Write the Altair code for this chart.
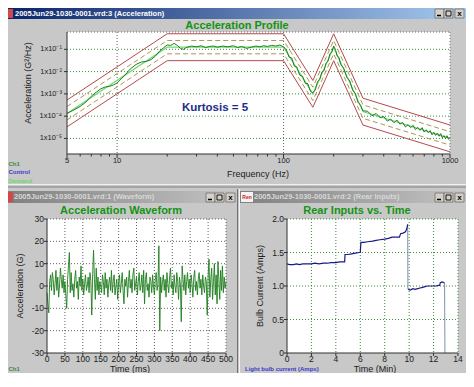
import altair as alt
import pandas as pd

FONT = "Liberation Sans"
W, H = 458, 365
BG = "#c8c8c8"

# ====================== DATA ======================
# --- Acceleration Profile (Hz vs G^2/Hz) ---
prof_f = [5, 20, 100, 150, 200, 300, 1000]
demand_v = [1.33e-4, 0.125, 0.125, 1.0e-3, 0.125, 1.6e-4, 1.0e-5]
abort_hi_v = [5.3e-4, 0.5, 0.5, 4.0e-3, 0.5, 6.4e-4, 4.0e-5]
abort_lo_v = [3.3e-5, 0.031, 0.031, 2.5e-4, 0.031, 4.0e-5, 2.5e-6]
alarm_hi_v = [2.7e-4, 0.25, 0.25, 2.0e-3, 0.25, 3.2e-4, 2.0e-5]
alarm_lo_v = [6.7e-5, 0.063, 0.063, 5.0e-4, 0.063, 8.0e-5, 5.0e-6]

ctrl_f = [5, 5.5, 6, 6.5, 7, 7.5, 8, 8.5, 9, 9.5, 10, 11, 12, 13, 14, 15, 16, 17, 18, 19, 20,
          21, 22, 23, 24, 25, 26, 28, 30, 32, 34, 36, 38, 40, 43, 46, 50, 53, 56, 60, 64, 68,
          72, 76, 80, 85, 90, 95, 100,
          104, 108, 112, 116, 120, 125, 130, 135, 140, 145, 150,
          155, 160, 165, 170, 175, 180, 185, 190, 195, 200,
          205, 210, 215, 220, 230, 240, 250, 260, 270, 280, 290, 300,
          320, 340, 360, 380, 400, 420, 440, 460, 480, 500, 520, 540, 560, 580, 600, 620,
          640, 660, 680, 700, 720, 740, 760, 780, 800, 820, 840, 860, 880, 900, 920, 940,
          960, 980, 1000]
ctrl_v = [1.33e-4, 1.90e-4, 2.72e-4, 4.33e-4, 7.85e-4, 1.19e-3, 1.71e-3, 2.05e-3, 2.16e-3,
          2.51e-3, 3.09e-3, 6.24e-3, 1.32e-2, 2.10e-2, 2.70e-2, 2.88e-2, 3.45e-2, 4.99e-2,
          8.34e-2, 0.117, 0.157,
          0.15, 0.185, 0.15, 0.11, 0.10, 0.12, 0.14, 0.13, 0.145, 0.12, 0.135, 0.14, 0.125,
          0.14, 0.13, 0.145, 0.12, 0.135, 0.11, 0.125, 0.14, 0.13, 0.145, 0.135, 0.15, 0.14,
          0.155, 0.13,
          9.44e-2, 4.46e-2, 4.08e-2, 1.77e-2, 1.64e-2, 6.97e-3, 6.17e-3, 2.99e-3, 2.86e-3,
          1.33e-3, 1.12e-3,
          1.51e-3, 3.55e-3, 4.42e-3, 9.59e-3, 1.10e-2, 2.40e-2, 2.95e-2, 6.37e-2, 7.45e-2, 0.140,
          9.77e-2, 5.0e-2, 4.38e-2, 2.17e-2, 1.41e-2, 5.45e-3, 3.85e-3, 1.49e-3, 1.04e-3,
          4.22e-4, 3.13e-4, 1.75e-4,
          1.66e-4, 1.04e-4, 1.32e-4, 8.47e-5, 9.68e-5, 5.98e-5, 7.43e-5, 5.08e-5, 6.67e-5,
          4.40e-5, 5.18e-5, 3.28e-5, 4.17e-5, 3.05e-5, 3.90e-5, 2.50e-5, 3.13e-5, 2.32e-5,
          3.05e-5, 1.93e-5, 2.44e-5, 1.82e-5, 2.26e-5, 1.44e-5, 1.87e-5, 1.37e-5, 1.75e-5,
          1.26e-5, 1.65e-5, 1.06e-5, 1.33e-5, 9.82e-6, 1.32e-5, 9.12e-6, 1.12e-5]

top_xticks = [5, 10, 100, 1000]
top_xlabels = ["5", "10", "100", "1000"]
top_xminor = [6, 7, 8, 9, 20, 30, 40, 50, 60, 70, 80, 90, 200, 300, 400, 500, 600, 700, 800, 900]
top_xgrid = [10, 100]
top_yticks = [1e-1, 1e-2, 1e-3, 1e-4, 1e-5]
top_ylabels = ["1x10⁻¹", "1x10⁻²", "1x10⁻³", "1x10⁻⁴", "1x10⁻⁵"]

# --- Acceleration Waveform (ms vs G) ---
wave_g = [-3, -8, -12, 2, 5, -2, 6, 3, -4, 1,
          7, -2, 4, -5, 0, 8, 3, -1, 5, -3,
          2, -4, -10, 3, 9, 15, -3, 6, -2, 1,
          -5, 3, 7, -1, 2, -6, 4, 0, 9, -2,
          3, -4, 1, 5, -2, 0, 4, -3, 6, 2,
          -13, 5, 16, 3, -6, 8, -2, 4, -4, 2,
          0, -3, 5, 2, -4, 6, -1, 3, -5, 1,
          4, -2, 7, -3, 2, 5, -4, 0, 3, -6,
          2, 5, -3, 1, 6, -2, -8, 3, 0, 4,
          -5, 2, 7, -1, 3, -3, 5, 8, -2, 1,
          4, -4, 2, 6, -2, 0, 5, -3, 7, -8,
          3, 6, -2, 1, -5, 4, 2, -3, 5, 0,
          -4, 3, 6, -2, 1, 18, -20, 4, -3, 2,
          5, -2, 3, -5, 6, 1, -3, 4, 8, -1,
          2, -4, 5, 0, -3, 6, 2, -6, 4, 1,
          -16, 9, 3, -2, 5, -4, 2, 6, -1, 3,
          -3, 5, 1, -5, 4, 7, -2, 2, -4, 3,
          6, -1, 3, -4, 5, 0, -3, 4, 2, -13,
          4, 12, -5, 3, 8, -6, 2, 10, -4, 5,
          -8, 11, 3, -6, 7, -2, 9, -3, 4, -1,
          2]
wave_t = [i * 2.5 for i in range(len(wave_g))]
wave_xticks = [0, 50, 100, 150, 200, 250, 300, 350, 400, 450, 500]
wave_xgrid = [50, 100, 150, 200, 250, 300, 350, 400, 450]
wave_yticks = [30, 20, 10, 0, -10, -20, -30]
wave_ygrid = [20, 10, 0, -10, -20]

# --- Rear Inputs vs. Time (min vs Amps) ---
rear1_t = [0, 0.2, 0.5, 0.8, 1.0, 1.3, 1.6, 2.0, 2.3, 2.6, 3.0, 3.3, 3.6, 4.0, 4.3, 4.6, 4.72,
           4.75, 5.0, 5.3, 5.6, 5.9, 6.0, 6.05, 6.3, 6.6, 7.0, 7.3, 7.6, 8.0, 8.3, 8.6, 9.0,
           9.2, 9.3, 9.5, 9.7, 9.8, 9.88]
rear1_v = [1.33, 1.32, 1.32, 1.33, 1.32, 1.33, 1.33, 1.33, 1.34, 1.33, 1.34, 1.34, 1.35, 1.35,
           1.36, 1.36, 1.36, 1.47, 1.47, 1.48, 1.49, 1.50, 1.50, 1.65, 1.65, 1.66, 1.67, 1.68,
           1.69, 1.70, 1.71, 1.73, 1.73, 1.73, 1.78, 1.79, 1.81, 1.85, 1.92]
rear2_t = [9.92, 10.1, 10.3, 10.5, 10.7, 10.9, 11.1, 11.3, 11.5, 11.8, 12.0, 12.2, 12.4, 12.5,
           12.55, 12.7, 12.85, 12.9]
rear2_v = [0.95, 0.94, 0.96, 0.95, 0.96, 0.97, 0.98, 0.99, 1.00, 1.00, 1.00, 1.00, 1.01, 1.01,
           1.05, 1.06, 1.05, 1.04]
drop_t = [9.88, 9.90, 12.9, 12.93]
drop_v = [1.92, 0.95, 1.04, 0.0]
drop_id = ["a", "a", "b", "b"]
rear_xticks = [0, 2, 4, 6, 8, 10, 12, 14]
rear_xgrid = [2, 4, 6, 8, 10, 12]
rear_yticks = [2.0, 1.5, 1.0, 0.5, 0.0]
rear_ylabels = ["2.0", "1.5", "1.0", "0.5", "0"]
rear_ygrid = [1.5, 1.0, 0.5]

assert len(ctrl_f) == len(ctrl_v)
assert len(rear1_t) == len(rear1_v) and len(rear2_t) == len(rear2_v)

# ====================== HELPERS ======================
def one():
    return pd.DataFrame({"k": [0]})


def rect(x1, x2, y1, y2, **kw):
    return alt.Chart(one()).mark_rect(**kw).encode(
        x=alt.value(x1), x2=alt.value(x2), y=alt.value(y1), y2=alt.value(y2))


def hrule(x1, x2, y, **kw):
    return alt.Chart(one()).mark_rule(**kw).encode(
        x=alt.value(x1), x2=alt.value(x2), y=alt.value(y))


def vrule(x, y1, y2, **kw):
    return alt.Chart(one()).mark_rule(**kw).encode(
        x=alt.value(x), y=alt.value(y1), y2=alt.value(y2))


def label(x, y, s, size, color="#202020", weight="normal", align="center", angle=None):
    kw = dict(text=s, fontSize=size, color=color, fontWeight=weight, align=align,
              baseline="middle", font=FONT)
    if angle is not None:
        kw["angle"] = angle
    return alt.Chart(one()).mark_text(**kw).encode(x=alt.value(x), y=alt.value(y))


def vgrid(vals, xs, y1, y2, color):
    return alt.Chart(pd.DataFrame({"v": vals})).mark_rule(
        color=color, strokeWidth=1, strokeDash=[1, 2]).encode(
        x=alt.X("v:Q", scale=xs, axis=None), y=alt.value(y1), y2=alt.value(y2))


def hgrid(vals, ys, x1, x2, color):
    return alt.Chart(pd.DataFrame({"v": vals})).mark_rule(
        color=color, strokeWidth=1, strokeDash=[1, 2]).encode(
        y=alt.Y("v:Q", scale=ys, axis=None), x=alt.value(x1), x2=alt.value(x2))


def xticks(vals, xs, y, ln, color="#303030"):
    return alt.Chart(pd.DataFrame({"v": vals})).mark_rule(color=color, strokeWidth=1).encode(
        x=alt.X("v:Q", scale=xs, axis=None), y=alt.value(y), y2=alt.value(y + ln))


def yticks(vals, ys, x, ln, color="#303030"):
    return alt.Chart(pd.DataFrame({"v": vals})).mark_rule(color=color, strokeWidth=1).encode(
        y=alt.Y("v:Q", scale=ys, axis=None), x=alt.value(x - ln), x2=alt.value(x))


def xlabels(vals, labs, xs, y, size):
    return alt.Chart(pd.DataFrame({"v": vals, "lab": labs})).mark_text(
        fontSize=size, font=FONT, color="#202020", align="center", baseline="middle").encode(
        x=alt.X("v:Q", scale=xs, axis=None), y=alt.value(y), text="lab:N")


def ylabels(vals, labs, ys, x, size):
    return alt.Chart(pd.DataFrame({"v": vals, "lab": labs})).mark_text(
        fontSize=size, font=FONT, color="#202020", align="right", baseline="middle").encode(
        y=alt.Y("v:Q", scale=ys, axis=None), x=alt.value(x), text="lab:N")


def hgrad(c0, c1):
    return alt.LinearGradient(gradient="linear",
                              stops=[alt.GradientStop(color=c0, offset=0),
                                     alt.GradientStop(color=c1, offset=1)],
                              x1=0, x2=1, y1=0, y2=0)


def buttons(xr, y1, y2):
    out = []
    close = (xr - 9, xr)
    mx = (xr - 20, xr - 11)
    mn = (xr - 29, xr - 20)
    for bx1, bx2 in (mn, mx, close):
        out.append(rect(bx1, bx2, y1, y2, fill="#d4d0c8", stroke="#505050", strokeWidth=0.6))
    out.append(hrule(mn[0] + 2, mn[0] + 6, y2 - 2.5, color="black", strokeWidth=1.5))
    out.append(rect(mx[0] + 2, mx[1] - 2, y1 + 2, y2 - 2, fill="#d4d0c8", stroke="black",
                    strokeWidth=0.9))
    out.append(label((close[0] + close[1]) / 2, (y1 + y2) / 2, "x", 8, color="black",
                     weight="bold"))
    return out


GREEN_T = "#139313"

# ====================== WINDOW CHROME ======================
chrome = [
    # top (active) title bar
    rect(0, W, 0, 11, fill=hgrad("#0a246a", "#a6caf0")),
    rect(0, 5, 1, 10, fill="#d04848"),
    label(7, 5.8, "2005Jun29-1030-0001.vrd:3 (Acceleration)", 7.5, color="white",
          weight="bold", align="left"),
    *buttons(456, 1, 10),
    # separation between windows
    hrule(0, W, 176.5, color="#f0f0f0", strokeWidth=1),
    hrule(0, W, 179, color="#808080", strokeWidth=1),
    vrule(229.5, 181, H, color="#707070", strokeWidth=1),
    vrule(231.5, 181, H, color="#f4f4f4", strokeWidth=1),
    # bottom-left (inactive) title bar
    rect(0, 229, 183, 195, fill=hgrad("#808080", "#c4c4c4")),
    rect(0, 5, 184, 194, fill="#d04848"),
    label(6, 189.3, "2005Jun29-1030-0001.vrd:1 (Waveform)", 7.5, color="#d8d8d8",
          weight="bold", align="left"),
    *buttons(227, 185, 194),
    # bottom-right (inactive) title bar
    rect(232, W, 183, 195, fill=hgrad("#808080", "#c4c4c4")),
    rect(233, 245, 184, 194, fill="#f4f4f4"),
    label(239, 189.3, "Ren", 5, color="#d02020", weight="bold"),
    label(246, 189.3, "2005Jun29-1030-0001.vrd:2 (Rear Inputs)", 7.5, color="#d8d8d8",
          weight="bold", align="left"),
    *buttons(456, 185, 194),
]

# ====================== TOP PANEL ======================
TX0, TX1, TY0, TY1 = 59, 442, 24, 146
tx = alt.Scale(type="log", domain=[5, 1000], range=[TX0, TX1], nice=False)
ty = alt.Scale(type="log", domain=[2e-6, 0.6], range=[TY1, TY0], nice=False)

abort_df = pd.DataFrame({"f": prof_f * 2, "v": abort_hi_v + abort_lo_v,
                         "s": ["hi"] * len(prof_f) + ["lo"] * len(prof_f)})
alarm_df = pd.DataFrame({"f": prof_f * 2, "v": alarm_hi_v + alarm_lo_v,
                         "s": ["hi"] * len(prof_f) + ["lo"] * len(prof_f)})
demand_df = pd.DataFrame({"f": prof_f, "v": demand_v})
ctrl_df = pd.DataFrame({"f": ctrl_f, "v": ctrl_v})

TXE = alt.X("f:Q", scale=tx, axis=None)
TYE = alt.Y("v:Q", scale=ty, axis=None)

top = alt.layer(
    rect(TX0, TX1, TY0, TY1, fill="white"),
    hgrid(top_yticks, ty, TX0, TX1, "#3c8c3c"),
    vgrid(top_xgrid, tx, TY0, TY1, "#606060"),
    alt.Chart(abort_df).mark_line(color="#b5494b", strokeWidth=1).encode(x=TXE, y=TYE, detail="s:N"),
    alt.Chart(alarm_df).mark_line(color="#a89858", strokeWidth=1, strokeDash=[5, 3]).encode(
        x=TXE, y=TYE, detail="s:N"),
    alt.Chart(demand_df).mark_line(color="#74d874", strokeWidth=1.2).encode(x=TXE, y=TYE),
    alt.Chart(ctrl_df).mark_line(color="#1f7f1f", strokeWidth=1).encode(x=TXE, y=TYE),
    hrule(TX0, TX1, TY0, color="#707070", strokeDash=[1, 2]),
    vrule(TX1, TY0, TY1, color="#707070", strokeDash=[1, 2]),
    vrule(TX0, TY0, TY1, color="#303030"),
    hrule(TX0, TX1, TY1, color="#303030"),
    yticks(top_yticks, ty, TX0, 3),
    xticks(top_xticks, tx, TY1, 4),
    xticks(top_xminor, tx, TY1, 2.5),
    ylabels(top_yticks, top_ylabels, ty, 54, 7.5),
    xlabels(top_xticks, top_xlabels, tx, 153, 7.5),
    label(229, 17.5, "Acceleration Profile", 11, color=GREEN_T, weight="bold"),
    label(250, 166, "Frequency (Hz)", 9),
    label(19.5, 75, "Acceleration (G²/Hz)", 9, angle=270),
    label(207, 99.5, "Kurtosis = 5", 11.5, color="#1c2c8c", weight="bold"),
    label(0.5, 155.5, "Ch1", 6, color="#3a8a3a", weight="bold", align="left"),
    label(0.5, 164, "Control", 6, color="#3a3acc", weight="bold", align="left"),
    label(0.5, 172.5, "Demand", 6, color="#66dd66", weight="bold", align="left"),
)

# ====================== WAVEFORM PANEL ======================
WX0, WX1, WY0, WY1 = 39, 218, 211, 345
wx = alt.Scale(domain=[0, 500], range=[WX0, WX1], nice=False, zero=False)
wy = alt.Scale(domain=[-30, 30], range=[WY1, WY0], nice=False, zero=False)
wave_df = pd.DataFrame({"t": wave_t, "g": wave_g})

wave = alt.layer(
    rect(WX0, WX1, WY0, WY1, fill="white"),
    vgrid(wave_xgrid, wx, WY0, WY1, "#606060"),
    hgrid(wave_ygrid, wy, WX0, WX1, "#606060"),
    alt.Chart(wave_df).mark_line(color="#1e7e1e", strokeWidth=0.9).encode(
        x=alt.X("t:Q", scale=wx, axis=None), y=alt.Y("g:Q", scale=wy, axis=None)),
    hrule(WX0, WX1, WY0, color="#606060", strokeDash=[1, 2]),
    vrule(WX1, WY0, WY1, color="#606060", strokeDash=[1, 2]),
    vrule(WX0, WY0, WY1, color="#303030"),
    hrule(WX0, WX1, WY1, color="#303030"),
    yticks(wave_yticks, wy, WX0, 3),
    xticks(wave_xticks, wx, WY1, 3),
    ylabels(wave_yticks, [str(v) for v in wave_yticks], wy, 36, 8.5),
    xlabels(wave_xticks, [str(v) for v in wave_xticks], wx, 351, 8.5),
    label(113, 202.5, "Acceleration Waveform", 11, color=GREEN_T, weight="bold"),
    label(122, 361, "Time (ms)", 9),
    label(12, 278, "Acceleration (G)", 9, angle=270),
    label(0.5, 361, "Ch1", 6, color="#3a8a3a", weight="bold", align="left"),
)

# ====================== REAR INPUTS PANEL ======================
RX0, RX1, RY0, RY1 = 279, 450, 211, 345
rx = alt.Scale(domain=[0, 14], range=[RX0, RX1], nice=False, zero=False)
ry = alt.Scale(domain=[0, 2], range=[RY1, RY0], nice=False, zero=False)
rear_df = pd.DataFrame({"t": rear1_t + rear2_t, "a": rear1_v + rear2_v,
                        "seg": ["1"] * len(rear1_t) + ["2"] * len(rear2_t)})
drop_df = pd.DataFrame({"t": drop_t, "a": drop_v, "seg": drop_id})
RXE = alt.X("t:Q", scale=rx, axis=None)
RYE = alt.Y("a:Q", scale=ry, axis=None)

rear = alt.layer(
    rect(RX0, RX1, RY0, RY1, fill="white"),
    vgrid(rear_xgrid, rx, RY0, RY1, "#3c8c3c"),
    hgrid(rear_ygrid, ry, RX0, RX1, "#3c8c3c"),
    alt.Chart(drop_df).mark_line(color="#8090b4", strokeWidth=1).encode(x=RXE, y=RYE, detail="seg:N"),
    alt.Chart(rear_df).mark_line(color="#1a1a86", strokeWidth=1.2).encode(x=RXE, y=RYE, detail="seg:N"),
    hrule(RX0, RX1, RY0, color="#3c8c3c", strokeDash=[1, 2]),
    vrule(RX1, RY0, RY1, color="#3c8c3c", strokeDash=[1, 2]),
    vrule(RX0, RY0, RY1, color="#303030"),
    hrule(RX0, RX1, RY1, color="#303030"),
    yticks(rear_yticks, ry, RX0, 3),
    xticks(rear_xticks, rx, RY1, 3),
    ylabels(rear_yticks, rear_ylabels, ry, 276, 8.5),
    xlabels(rear_xticks, [str(v) for v in rear_xticks], rx, 351, 8.5),
    label(349, 202.5, "Rear Inputs vs. Time", 11, color=GREEN_T, weight="bold"),
    label(367, 361, "Time (Min)", 9),
    label(252, 278, "Bulb Current (Amps)", 9, angle=270),
    label(237, 361, "Light bulb current (Amps)", 6, color="#3a3acc", weight="bold", align="left"),
)

chart = alt.layer(*chrome, top, wave, rear).resolve_scale(
    x="independent", y="independent"
).properties(
    width=W, height=H, background=BG, padding=0,
    autosize=alt.AutoSizeParams(type="none"),
).configure_view(stroke=None)

chart.save("out.html", embed_options={"renderer": "svg", "actions": False})
